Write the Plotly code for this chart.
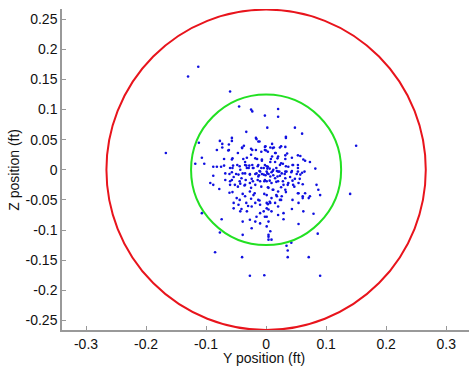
import plotly.graph_objects as go

# Scatter data (Y position, Z position) in ft
y_pos = [
    -0.060,-0.045,-0.025,-0.023,-0.002,-0.033,-0.057,-0.077,-0.017,-0.013,
    -0.073,-0.073,-0.062,-0.040,-0.037,-0.112,-0.082,-0.063,-0.047,-0.025,
    -0.017,-0.008,-0.002,-0.025,-0.107,-0.070,-0.057,-0.038,-0.035,-0.015,
    -0.007,-0.118,-0.103,-0.088,-0.082,-0.075,-0.070,-0.060,-0.055,-0.048,
    -0.043,-0.035,-0.032,-0.028,-0.023,-0.022,-0.013,-0.008,-0.002,0.002,
    0.020,0.020,0.002,0.048,0.060,0.033,0.010,-0.002,0.007,0.013,
    0.023,0.032,0.003,0.015,0.020,0.010,0.035,0.043,0.032,0.057,
    0.053,0.065,0.073,0.082,0.045,0.037,0.028,0.023,0.015,0.007,
    0.003,0.012,0.020,0.032,0.043,0.053,0.060,
    -0.088,-0.068,-0.057,-0.054,-0.068,-0.046,-0.041,-0.035,-0.027,-0.024,
    -0.016,-0.013,-0.010,-0.004,0.002,-0.002,-0.010,-0.018,-0.027,-0.035,
    -0.043,-0.052,-0.060,-0.088,-0.093,-0.078,-0.061,-0.049,-0.054,-0.046,
    -0.035,-0.027,-0.021,-0.013,-0.018,-0.030,-0.041,-0.032,-0.024,-0.010,
    0.001,-0.004,0.004,-0.010,-0.016,-0.002,-0.054,-0.043,-0.039,-0.027,
    -0.018,-0.010,-0.074,-0.107,-0.024,0.001,-0.077,-0.039,0.004,0.004,
    -0.085,-0.040,
    0.001,0.009,0.018,0.026,0.034,0.007,0.015,0.023,0.032,0.040,
    0.048,0.057,0.001,0.009,0.020,0.029,0.037,0.045,0.054,0.004,
    0.012,0.020,0.032,0.001,0.009,0.018,0.026,0.023,0.007,0.015,
    0.020,0.001,0.009,0.020,0.029,0.001,0.004,0.007,0.004,0.009,
    0.084,0.087,0.090,0.065,0.071,0.054,0.061,0.073,0.054,0.043,
    0.062,0.079,0.029,0.054,0.086,0.042,0.034,0.036,0.036,0.071,
    0.140,
    -0.057,-0.016,0.033,-0.062,-0.040,-0.023,-0.001,0.011,0.025,-0.011,
    0.000,0.016,0.032,0.053,0.062,-0.056,-0.032,-0.018,-0.007,0.008,
    0.019,0.025,0.033,0.044,0.053,-0.056,-0.044,-0.033,-0.029,-0.021,
    -0.014,-0.011,-0.004,0.001,0.006,0.011,0.017,0.022,-0.061,-0.050,
    -0.039,-0.027,-0.018,-0.012,-0.007,-0.001,0.004,0.012,0.019,0.031,
    0.042,0.051,0.064,-0.057,-0.044,-0.034,-0.022,-0.014,-0.003,0.006,
    0.017,0.028,0.044,0.056,-0.060,-0.047,-0.036,-0.025,-0.008,0.003,
    0.011,0.025,0.036,0.047,0.061,-0.056,-0.039,-0.019,-0.003,0.017,
    0.033,0.053,-0.044,-0.025,-0.011,0.006,0.025,0.044,0.061,-0.033,
    0.003,
    -0.130,-0.113,-0.167,0.150,-0.027,-0.003,0.090,
]
z_pos = [
    0.130,0.105,0.100,0.097,0.090,0.063,0.053,0.048,0.053,0.047,
    0.043,0.037,0.042,0.037,0.040,0.045,0.033,0.032,0.028,0.035,
    0.033,0.030,0.033,0.025,0.020,0.018,0.017,0.018,0.013,0.018,
    0.017,0.010,0.010,0.005,0.005,0.005,0.007,0.003,0.007,0.008,
    0.000,0.008,0.003,0.007,0.008,0.003,0.008,0.003,0.008,0.002,
    0.101,0.088,0.070,0.070,0.060,0.053,0.043,0.038,0.037,0.037,
    0.037,0.038,0.030,0.028,0.022,0.022,0.027,0.020,0.018,0.023,
    0.008,0.015,0.013,0.002,0.008,0.005,0.010,0.008,0.013,0.013,
    0.005,0.000,-0.003,-0.003,-0.002,-0.003,-0.005,
    -0.010,-0.006,-0.004,-0.012,-0.017,-0.008,-0.014,-0.006,-0.008,-0.015,
    -0.006,-0.011,-0.003,-0.008,-0.006,-0.017,-0.019,-0.025,-0.022,-0.025,
    -0.023,-0.025,-0.019,-0.025,-0.022,-0.032,-0.038,-0.047,-0.055,-0.058,
    -0.044,-0.036,-0.042,-0.050,-0.055,-0.060,-0.065,-0.069,-0.061,-0.058,
    -0.055,-0.069,-0.066,-0.072,-0.078,-0.078,-0.064,-0.069,-0.086,-0.083,
    -0.086,-0.089,-0.082,-0.072,-0.097,-0.094,-0.104,-0.108,-0.108,-0.116,
    -0.137,-0.145,
    -0.003,-0.004,-0.002,-0.006,-0.003,-0.011,-0.014,-0.010,-0.014,-0.012,
    -0.015,-0.008,-0.019,-0.022,-0.019,-0.025,-0.022,-0.025,-0.022,-0.030,
    -0.033,-0.036,-0.033,-0.042,-0.047,-0.044,-0.044,-0.050,-0.055,-0.055,
    -0.061,-0.064,-0.069,-0.075,-0.072,-0.078,-0.086,-0.102,-0.111,-0.116,
    -0.025,-0.033,-0.042,-0.039,-0.047,-0.039,-0.044,-0.044,-0.055,-0.065,
    -0.069,-0.073,-0.082,-0.090,-0.106,-0.121,-0.126,-0.134,-0.145,-0.145,
    -0.040,
    0.048,0.051,0.055,0.033,0.036,0.033,0.039,0.036,0.039,0.047,
    0.032,0.028,0.024,0.024,0.017,0.019,0.020,0.019,0.015,0.018,
    0.019,0.011,0.006,0.008,0.003,0.003,0.006,0.007,0.003,0.003,
    0.006,-0.002,0.003,0.006,0.002,-0.002,0.003,-0.003,-0.007,-0.007,
    -0.006,-0.007,-0.007,-0.009,-0.007,-0.009,-0.007,-0.009,-0.011,-0.007,
    -0.004,-0.007,-0.003,-0.017,-0.019,-0.017,-0.019,-0.017,-0.019,-0.018,
    -0.020,-0.019,-0.018,-0.015,-0.025,-0.028,-0.026,-0.030,-0.028,-0.029,
    -0.033,-0.029,-0.025,-0.028,-0.024,-0.037,-0.040,-0.039,-0.040,-0.042,
    -0.037,-0.039,-0.050,-0.048,-0.051,-0.053,-0.050,-0.050,-0.047,-0.055,
    -0.057,
    0.155,0.171,0.028,0.040,-0.176,-0.175,-0.176,
]

# Circle radii (ft)
inner_radius = 0.125
outer_radius = 0.266

x_ticks = [-0.3, -0.2, -0.1, 0, 0.1, 0.2, 0.3]
x_tick_labels = ["-0.3", "-0.2", "-0.1", "0", "0.1", "0.2", "0.3"]
y_ticks = [-0.25, -0.2, -0.15, -0.1, -0.05, 0, 0.05, 0.1, 0.15, 0.2, 0.25]
y_tick_labels = ["-0.25", "-0.2", "-0.15", "-0.1", "-0.05", "0", "0.05", "0.1", "0.15", "0.2", "0.25"]

fig = go.Figure()
fig.add_trace(go.Scatter(
    x=y_pos, y=z_pos, mode="markers",
    marker=dict(color="#1010e0", size=2.6, line=dict(width=0)),
    showlegend=False, hoverinfo="skip",
))

fig.add_shape(type="circle", xref="x", yref="y",
              x0=-outer_radius, y0=-outer_radius, x1=outer_radius, y1=outer_radius,
              line=dict(color="#e8141c", width=2))
fig.add_shape(type="circle", xref="x", yref="y",
              x0=-inner_radius, y0=-inner_radius, x1=inner_radius, y1=inner_radius,
              line=dict(color="#22e022", width=2))

axis_font = dict(family="Liberation Sans", size=14, color="#111")

fig.add_annotation(text="Y position (ft)", xref="paper", yref="paper",
                   x=0.497, y=-0.087, xanchor="center", yanchor="middle",
                   showarrow=False, font=axis_font)
fig.add_annotation(text="Z position (ft)", xref="paper", yref="paper",
                   x=-0.12, y=0.5, xanchor="center", yanchor="middle",
                   textangle=-90, showarrow=False, font=axis_font)

fig.update_layout(
    width=474, height=372,
    margin=dict(l=62, r=5, t=9, b=42),
    paper_bgcolor="white", plot_bgcolor="white",
    font=axis_font,
    xaxis=dict(
        range=[-0.34, 0.338], tickvals=x_ticks, ticktext=x_tick_labels,
        ticks="inside", ticklen=4, tickcolor="#999", showgrid=False, zeroline=False,
        showline=True, linecolor="#999", linewidth=1.5, mirror=False,
        automargin=False, tickfont=axis_font,
    ),
    yaxis=dict(
        range=[-0.266, 0.267], tickvals=y_ticks, ticktext=y_tick_labels,
        ticks="inside", ticklen=4, tickcolor="#999", showgrid=False, zeroline=False,
        showline=True, linecolor="#999", linewidth=1.5, mirror=False,
        automargin=False, tickfont=axis_font,
    ),
)

fig.write_html(
    "out.html",
    config={"displayModeBar": False},
    post_script="document.body.style.margin='0';document.body.style.overflow='hidden';",
)
